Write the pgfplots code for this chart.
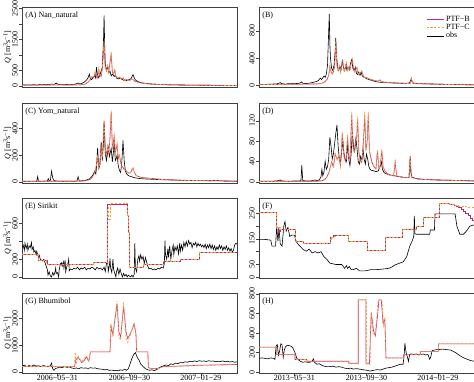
\documentclass[border=0pt]{standalone}
\usepackage{fontspec}
\setmainfont{Liberation Serif}
\usepackage{pgfplots}
\pgfplotsset{compat=1.18}
\definecolor{ptfb}{RGB}{190,40,120}
\definecolor{ptfc}{RGB}{245,160,60}
\newcommand{\fs}{\fontsize{8}{9.6}\selectfont}
\pgfplotsset{
  panel/.style={scale only axis, width=215pt, height=80pt, anchor=north west,
    xmin=0, xmax=364, axis line style={black!75, line width=0.5pt},
    tick align=outside, major tick length=3pt, tick style={black!75, line width=0.5pt},
    ytick pos=left, xtick pos=bottom, xtick=\empty,
    /pgf/number format/assume math mode=true,
    /pgf/number format/1000 sep={},
    every tick label/.append style={font=\fs},
    yticklabel style={rotate=90, anchor=south, inner sep=1pt},
    ylabel style={font=\fs, at={(axis description cs:-0.068,0.5)}, anchor=center},
    clip=true},
  leftp/.style={ylabel={\textit{Q} [m\textsuperscript{3}s\textsuperscript{−1}]}},
  botl/.style={xtick={60,182,303}, xticklabels={2006−05−31,2006−09−30,2007−01−29}, xticklabel style={inner sep=0pt, yshift=1.5pt}},
  botr/.style={xtick={60,182,303}, xticklabels={2013−05−31,2013−09−30,2014−01−29}, xticklabel style={inner sep=0pt, yshift=1.5pt}},
  obs/.style={black, line width=0.6pt},
  pb/.style={ptfb, line width=0.6pt},
  pc/.style={ptfc, line width=0.7pt, dash pattern=on 2.2pt off 1.6pt},
}
\newcommand{\ptitle}[1]{\node[anchor=west, font=\fs, inner sep=0pt] at (rel axis cs:0.015,0.895) {#1};}
\begin{document}
\begin{tikzpicture}[font=\fs]
\useasboundingbox (0pt,0pt) rectangle (474pt,-381pt);
% (A)
\begin{axis}[panel, leftp, at={(22pt,-7pt)}, ymin=-40, ymax=2550, ytick={0,500,1000,1500,2000,2500}, yticklabels={0,500,,1500,,2500}]
\addplot[obs] coordinates {(0,30)(5,25)(10,30)(15,25)(20,35)(25,25)(30,40)(35,30)(40,45)(45,35)(50,55)(55,45)(58,90)(61,45)(65,35)(70,30)(75,45)(80,35)(85,40)(90,50)(95,90)(98,55)(102,80)(106,130)(109,180)(112,260)(114,380)(116,210)(118,200)(121,280)(123,330)(125,240)(126,600)(128,330)(130,260)(132,350)(134,480)(136,600)(138,1500)(139,2280)(140,1300)(141,700)(143,500)(145,620)(147,420)(149,470)(151,320)(153,380)(156,300)(158,350)(160,250)(163,220)(166,250)(169,210)(172,180)(175,160)(178,180)(182,200)(185,240)(188,360)(190,260)(192,190)(195,150)(198,120)(202,100)(206,85)(210,75)(215,65)(220,55)(230,45)(240,38)(250,32)(260,28)(270,25)(280,22)(300,18)(320,15)(340,12)(364,10)};
\addplot[pb] coordinates {(0,20)(20,22)(40,25)(60,28)(80,25)(100,30)(108,60)(112,120)(115,180)(118,280)(121,250)(124,420)(126,300)(128,250)(130,520)(132,330)(134,300)(136,550)(138,1100)(139,1250)(141,600)(143,480)(145,650)(147,450)(149,750)(151,1000)(153,450)(155,380)(157,500)(159,300)(162,250)(165,280)(168,220)(171,250)(174,180)(177,200)(180,170)(184,190)(188,200)(191,150)(195,120)(200,100)(205,85)(210,70)(220,55)(230,45)(240,38)(260,28)(280,22)(300,18)(330,14)(364,10)};
\addplot[pc] coordinates {(0,20)(20,22)(40,25)(60,28)(80,25)(100,30)(108,70)(112,140)(115,200)(118,300)(121,260)(124,480)(126,280)(128,260)(130,560)(132,320)(134,310)(136,600)(138,1200)(139,1300)(141,580)(143,500)(145,700)(147,430)(149,800)(151,1100)(153,430)(155,400)(157,550)(159,290)(162,260)(165,300)(168,210)(171,260)(174,170)(177,210)(180,160)(184,200)(188,210)(191,140)(195,115)(200,95)(205,80)(210,68)(220,52)(230,44)(240,36)(260,27)(280,21)(300,17)(330,13)(364,10)};
\ptitle{(A) Nan\_natural}
\end{axis}
% (B)
\begin{axis}[panel, at={(259pt,-7pt)}, ymin=-20, ymax=1150, ytick={0,400,800},
  legend style={at={(axis description cs:0.995,0.93)}, anchor=north east, draw=none, fill=none, font=\fs, row sep=-2.5pt, inner sep=1pt},
  legend cell align=left]
\addlegendimage{pb}\addlegendentry{PTF−B}
\addlegendimage{pc}\addlegendentry{PTF−C}
\addlegendimage{obs}\addlegendentry{obs}
\addplot[obs, forget plot] coordinates {(0,20)(10,18)(20,22)(30,25)(34,35)(36,45)(38,30)(45,22)(50,30)(55,28)(60,35)(65,30)(70,40)(72,55)(74,35)(80,30)(85,35)(90,45)(95,55)(100,70)(104,110)(106,90)(110,140)(112,120)(114,170)(116,300)(118,800)(119,1050)(120,600)(121,400)(123,250)(125,220)(127,300)(129,500)(130,700)(131,450)(133,280)(135,230)(137,280)(139,240)(141,360)(143,260)(145,220)(147,300)(149,220)(151,270)(153,230)(155,330)(157,380)(159,250)(161,220)(163,270)(165,180)(167,160)(169,200)(171,150)(173,190)(175,140)(178,120)(181,110)(184,95)(187,85)(190,80)(195,65)(200,55)(205,50)(210,48)(220,42)(230,38)(240,35)(250,33)(255,40)(257,80)(258,110)(259,60)(261,35)(270,30)(280,27)(300,22)(320,18)(340,15)(364,12)};
\addplot[pb, forget plot] coordinates {(0,15)(20,16)(40,18)(60,20)(80,22)(100,25)(108,40)(112,60)(115,90)(118,150)(120,280)(122,200)(124,170)(126,200)(128,280)(130,620)(132,300)(134,220)(136,280)(138,200)(140,300)(142,340)(144,220)(146,260)(148,320)(150,230)(152,260)(154,240)(156,330)(158,370)(160,260)(162,200)(164,250)(166,260)(168,160)(171,180)(174,210)(177,130)(180,120)(184,110)(188,95)(192,85)(196,75)(200,68)(203,70)(205,85)(207,60)(212,52)(220,45)(230,40)(240,36)(250,33)(256,32)(258,100)(260,40)(270,30)(280,27)(300,22)(330,16)(364,12)};
\addplot[pc, forget plot] coordinates {(0,15)(20,16)(40,18)(60,20)(80,22)(100,24)(108,35)(112,50)(115,80)(118,140)(120,300)(122,190)(124,160)(126,210)(128,290)(130,650)(132,280)(134,210)(136,290)(138,190)(140,310)(142,360)(144,210)(146,270)(148,340)(150,220)(152,270)(154,230)(156,340)(158,390)(160,250)(162,190)(164,260)(166,270)(168,150)(171,190)(174,220)(177,125)(180,115)(184,105)(188,92)(192,82)(196,72)(200,66)(203,72)(205,90)(207,58)(212,50)(220,44)(230,39)(240,35)(250,32)(256,31)(258,105)(260,38)(270,29)(280,26)(300,21)(330,15)(364,12)};
\ptitle{(B)}
\end{axis}
% (C)
\begin{axis}[panel, leftp, at={(22pt,-103pt)}, ymin=-8, ymax=590, ytick={0,200,400}]
\addplot[obs] coordinates {(0,5)(10,5)(20,6)(25,5)(26.5,40)(28,5)(35,6)(43,6)(44.5,25)(46,8)(48,10)(50,80)(52,30)(54,10)(60,6)(70,5)(80,6)(90,5)(93,6)(95,40)(97,6)(105,10)(110,15)(115,25)(118,40)(121,60)(123,80)(125,60)(126,100)(128,255)(130,100)(132,130)(134,300)(136,160)(138,300)(139,455)(141,210)(143,160)(145,220)(146,260)(148,190)(150,230)(151,250)(153,150)(155,230)(156,310)(158,160)(160,180)(161,200)(163,120)(165,85)(167,70)(169,150)(171,310)(173,160)(175,80)(178,55)(181,45)(185,40)(190,32)(195,28)(200,25)(210,22)(220,20)(235,17)(250,15)(270,12)(300,10)(320,9)(329,12)(335,8)(364,5)};
\addplot[pb] coordinates {(0,4)(20,4)(40,5)(60,5)(80,5)(100,6)(110,10)(115,20)(118,30)(121,50)(123,70)(125,100)(128,180)(130,110)(132,150)(134,250)(136,190)(138,350)(139,440)(141,250)(143,200)(145,260)(147,220)(149,330)(151,520)(153,260)(155,310)(156,340)(158,220)(160,260)(161,280)(163,180)(165,200)(167,150)(169,120)(172,100)(175,90)(178,75)(181,65)(184,70)(186,90)(188,105)(190,75)(193,50)(196,42)(200,36)(210,30)(220,26)(235,20)(250,16)(270,13)(300,10)(330,8)(364,6)};
\addplot[pc] coordinates {(0,4)(20,4)(40,5)(60,5)(80,5)(100,6)(110,9)(115,18)(118,28)(121,48)(123,65)(125,105)(128,190)(130,105)(132,155)(134,260)(136,185)(138,370)(139,460)(141,240)(143,195)(145,270)(147,215)(149,350)(151,535)(153,250)(155,320)(156,350)(158,210)(160,270)(161,290)(163,170)(165,210)(167,140)(169,115)(172,95)(175,85)(178,72)(181,62)(184,72)(186,95)(188,110)(190,72)(193,48)(196,40)(200,35)(210,29)(220,25)(235,19)(250,15)(270,12)(300,10)(330,8)(364,6)};
\ptitle{(C) Yom\_natural}
\end{axis}
% (D)
\begin{axis}[panel, at={(259pt,-103pt)}, ymin=-2, ymax=155, ytick={0,40,80,120}]
\addplot[obs] coordinates {(0,1.5)(15,1.5)(30,2)(34,3)(36,4)(38,2)(50,1.5)(60,2)(70,2)(71,3)(72.5,33)(74,3)(80,2)(88,2)(95,4)(98,2.5)(102,4)(105,10)(106.5,25)(108,12)(110,20)(112,41)(114,25)(116,30)(118,45)(120,88)(122,70)(124,45)(126,55)(128,75)(130,95)(132,112)(134,70)(136,45)(138,40)(140,60)(142,80)(144,55)(146,45)(148,40)(150,75)(152,45)(154,32)(156,55)(158,100)(160,70)(162,60)(164,85)(166,65)(168,40)(170,35)(172,50)(174,40)(176,65)(178,45)(180,35)(182,55)(184,45)(186,30)(188,25)(190,23)(194,22)(198,20)(202,22)(205,30)(207,40)(209,25)(212,18)(216,16)(220,14)(225,13)(230,12)(235,11)(240,10)(245,9)(250,9)(254,9)(255,30)(256,50)(257,20)(259,9)(265,7)(270,6)(280,5)(290,4.5)(300,4)(320,3.5)(340,3)(364,2)};
\addplot[pb] coordinates {(0,1)(20,1)(40,1.2)(60,1.2)(80,1.3)(100,1.5)(108,3)(112,6)(115,10)(118,18)(121,30)(123,40)(126,30)(129,55)(132,45)(135,50)(138,32)(141,95)(143,60)(145,45)(147,40)(150,88)(152,50)(154,45)(157,132)(159,70)(161,60)(163,75)(165,80)(167,124)(169,60)(171,45)(173,40)(175,50)(177,85)(179,130)(181,62)(183,78)(185,132)(187,60)(189,50)(191,40)(193,34)(196,28)(198,26)(200.5,60)(203,26)(205,30)(208,62)(210,30)(213,22)(216,18)(220,15)(224,13)(228,12)(230.5,40)(233,12)(237,11)(241,10)(245,9)(250,9)(254,8.5)(256,50)(258,9)(265,7)(270,6)(280,5)(300,4)(330,3)(364,2)};
\addplot[pc] coordinates {(0,1)(20,1)(40,1.2)(60,1.2)(80,1.3)(100,1.5)(108,2.5)(112,5)(115,9)(118,15)(121,28)(123,38)(126,28)(129,58)(132,42)(135,52)(138,30)(141,100)(143,58)(145,42)(147,38)(150,93)(152,48)(154,43)(157,138)(159,68)(161,58)(163,78)(165,82)(167,128)(169,58)(171,42)(173,38)(175,52)(177,90)(179,138)(181,60)(183,80)(185,138)(187,58)(189,48)(191,38)(193,33)(196,27)(198,25)(200.5,63)(203,25)(205,30)(208,65)(210,29)(213,21)(216,17)(220,14)(224,12.5)(228,11.5)(230.5,43)(233,11.5)(237,10.5)(241,9.5)(245,9)(250,8.5)(254,8)(256,52)(258,8.5)(265,6.5)(270,5.5)(280,5)(300,4)(330,3)(364,2)};
\ptitle{(D)}
\end{axis}
% (E)
\begin{axis}[panel, leftp, at={(22pt,-198pt)}, ymin=-12, ymax=890, ytick={0,200,400,600}, yticklabels={0,200,,600}]
\addplot[obs] coordinates {(0,330)(2,360)(4,300)(5,380)(7,320)(9,370)(10,300)(12,350)(14,330)(16,390)(17,310)(19,340)(20,280)(22,300)(24,250)(25,290)(27,240)(29,250)(31,200)(33,190)(35,180)(37,200)(39,160)(41,120)(43,80)(44,20)(46,60)(48,10)(50,0)(52,50)(54,20)(56,60)(57,100)(58,40)(60,50)(62,0)(63,80)(65,150)(67,160)(68,120)(70,170)(71,100)(73,190)(74,60)(76,120)(78,160)(79,200)(80,70)(82,90)(85,80)(88,100)(91,90)(94,110)(97,80)(100,100)(103,90)(106,110)(109,80)(112,100)(115,90)(118,110)(121,100)(124,80)(127,110)(130,90)(133,100)(136,80)(139,110)(141,60)(143,150)(145,180)(146,60)(148,130)(149,210)(150,100)(152,50)(154,200)(155,90)(157,40)(159,0)(160,60)(162,100)(164,30)(166,90)(168,40)(170,0)(172,40)(174,10)(176,30)(178,0)(180,20)(182,10)(184,0)(186,20)(188,0)(190,30)(191,380)(192,100)(194,60)(196,200)(198,240)(199,180)(201,250)(203,200)(205,230)(207,150)(209,220)(211,170)(213,120)(215,90)(218,100)(221,80)(224,90)(227,80)(230,100)(233,90)(236,110)(239,100)(241,150)(242,410)(243,250)(245,200)(247,320)(248,220)(250,350)(252,200)(254,300)(256,360)(257,250)(259,340)(261,300)(263,350)(265,260)(267,380)(268,290)(270,360)(272,300)(274,390)(276,340)(278,400)(280,350)(282,410)(284,370)(286,390)(288,330)(290,380)(292,360)(294,390)(296,340)(298,380)(300,350)(302,370)(304,340)(306,360)(308,330)(310,370)(312,320)(314,360)(316,330)(318,370)(320,320)(322,360)(324,310)(326,350)(328,300)(330,340)(332,310)(334,360)(336,320)(338,350)(340,300)(342,340)(344,310)(346,350)(348,300)(350,330)(352,290)(354,320)(356,280)(358,300)(360,360)(362,380)(364,370)};
\addplot[pb, const plot mark left] coordinates {(0,250)(27,190)(42,145)(120,160)(144,820)(179,700)(180,500)(181,105)(205,140)(239,180)(268,200)(301,275)(364,275)};
\addplot[pc, const plot mark left] coordinates {(0,250)(27,190)(42,145)(120,160)(145,780)(147,650)(149,830)(179,700)(180,500)(181,105)(205,140)(239,180)(268,200)(301,275)(364,275)};
\ptitle{(E) Sirikit}
\end{axis}
% (F)
\begin{axis}[panel, at={(259pt,-198pt)}, ymin=-3, ymax=310, ytick={0,50,100,150,200,250}, yticklabels={0,50,,150,,250}]
\addplot[obs] coordinates {(0,148)(10,148)(20,145)(22,122)(28,122)(30,200)(32,140)(34,190)(36,130)(39,122)(42,200)(44,218)(46,180)(49,195)(52,160)(56,165)(60,165)(63,140)(66,130)(70,120)(75,108)(80,102)(85,110)(90,95)(95,100)(100,95)(105,100)(110,80)(115,70)(120,55)(130,50)(140,50)(145,35)(148,45)(150,35)(153,42)(156,30)(160,30)(165,35)(170,25)(175,25)(180,25)(190,30)(200,30)(210,32)(220,35)(225,40)(230,48)(238,55)(244,60)(250,80)(255,120)(259,140)(262,160)(263,240)(264,170)(267,168)(280,168)(289,168)(290,185)(297,185)(298,248)(332,248)(335,200)(340,168)(346,168)(351,180)(357,200)(364,205)};
\addplot[pb, const plot mark left] coordinates {(0,255)(30,195)(33,180)(36,188)(61,141)(75,131)(120,157)(126,164)(152,139)(183,104)(214,157)(243,188)(267,200)(278,235)(306,290)(310,290)(314,289)(318,288)(322,286)(326,284)(330,281)(334,277)(338,272)(342,266)(346,259)(350,251)(354,242)(358,232)(361,222)(364,212)};
\addplot[pc, const plot mark left] coordinates {(0,255)(30,197)(36,188)(61,141)(75,131)(120,148)(123,155)(127,160)(131,162)(152,139)(183,104)(214,157)(243,188)(267,200)(278,235)(306,290)(314,288)(322,285)(330,282)(338,279)(346,276)(354,273)(364,270)};
\ptitle{(F)}
\end{axis}
% (G)
\begin{axis}[panel, leftp, botl, at={(22pt,-293pt)}, ymin=-40, ymax=2950, ytick={0,1000,2000}]
\addplot[obs] coordinates {(0,220)(4,250)(8,200)(12,240)(16,210)(20,260)(24,220)(28,230)(32,200)(36,240)(40,210)(44,190)(48,230)(50,330)(52,120)(54,60)(56,120)(60,150)(64,180)(68,160)(72,200)(76,170)(80,190)(84,150)(88,130)(92,150)(96,120)(100,160)(104,140)(108,150)(112,130)(116,160)(120,140)(124,150)(128,120)(132,110)(136,100)(140,80)(144,90)(148,60)(152,70)(156,50)(160,60)(164,40)(166,80)(170,60)(174,100)(177,60)(180,120)(183,300)(186,500)(189,650)(192,720)(195,550)(198,450)(201,300)(205,200)(209,120)(213,80)(216,60)(220,80)(224,50)(228,90)(232,150)(236,200)(240,230)(244,260)(248,240)(252,300)(256,280)(260,330)(264,310)(268,350)(272,340)(276,380)(280,360)(284,400)(288,380)(292,410)(296,390)(300,420)(304,400)(308,410)(312,390)(316,420)(320,400)(324,410)(328,380)(332,400)(336,390)(340,410)(344,380)(348,400)(352,370)(356,390)(360,360)(364,380)};
\addplot[pb] coordinates {(0,210)(20,200)(40,220)(60,190)(80,200)(89,200)(91,450)(95,550)(101,350)(105,420)(109,560)(113,400)(116,750)(149,750)(151,1700)(154,1400)(157,1900)(161,2550)(164,1500)(167,1300)(172,2450)(176,1500)(179,1250)(185,1500)(190,1800)(193,1400)(194,750)(213,750)(214,160)(220,120)(230,130)(239,200)(267,220)(301,250)(364,280)};
\addplot[pc] coordinates {(0,200)(89,200)(90,750)(92,300)(95,600)(101,380)(109,600)(113,420)(116,750)(149,750)(150,1800)(154,1300)(157,2000)(161,2650)(164,1300)(167,1200)(172,2600)(176,1300)(179,1100)(185,1500)(190,1850)(193,1300)(194,750)(213,750)(214,150)(220,110)(230,120)(239,190)(267,210)(301,240)(364,270)};
\ptitle{(G) Bhumibol}
\end{axis}
% (H)
\begin{axis}[panel, botr, at={(259pt,-293pt)}, ymin=-10, ymax=810, ytick={0,200,400,600,800}]
\addplot[obs] coordinates {(0,140)(5,145)(10,140)(15,135)(20,145)(25,140)(27,130)(29,270)(31,280)(33,170)(35,220)(37,290)(39,280)(41,150)(43,230)(45,260)(48,275)(51,270)(54,265)(57,250)(60,210)(62,180)(64,140)(66,130)(70,110)(74,100)(78,105)(82,100)(86,100)(90,110)(92,135)(94,100)(98,80)(102,85)(106,70)(110,60)(115,55)(120,55)(125,60)(130,50)(135,55)(140,50)(145,40)(150,35)(155,40)(160,30)(165,35)(170,30)(175,25)(180,20)(185,15)(188,10)(192,15)(196,20)(200,25)(205,20)(210,30)(215,40)(220,45)(225,50)(230,60)(235,70)(239,80)(244,80)(246,200)(247,295)(249,200)(251,160)(253,110)(255,180)(258,185)(262,180)(266,185)(270,175)(274,180)(278,185)(282,175)(286,180)(289,130)(291,160)(293,220)(297,225)(301,230)(305,230)(310,235)(315,232)(320,228)(325,225)(329,210)(333,200)(337,180)(341,165)(345,150)(349,140)(353,130)(357,120)(361,115)(364,110)};
\addplot[pb] coordinates {(0,255)(30,255)(30,178)(61,178)(61,128)(81,128)(81,111)(152,111)(152,90)(168,90)(168,740)(181,740)(181,90)(187,90)(190,610)(194,420)(197,370)(201,600)(203,740)(207,740)(210,500)(213,540)(215,145)(245,145)(245,178)(273,178)(273,212)(304,212)(304,289)(364,289)};
\addplot[pc] coordinates {(0,255)(30,255)(30,178)(61,178)(61,128)(81,128)(81,111)(152,111)(152,85)(168,85)(168,740)(182,740)(182,80)(188,80)(190,600)(193,400)(197,380)(201,700)(202,740)(208,740)(211,480)(213,560)(215,140)(245,140)(245,178)(273,178)(273,212)(304,212)(304,289)(364,289)};
\ptitle{(H)}
\end{axis}
\end{tikzpicture}
\end{document}
